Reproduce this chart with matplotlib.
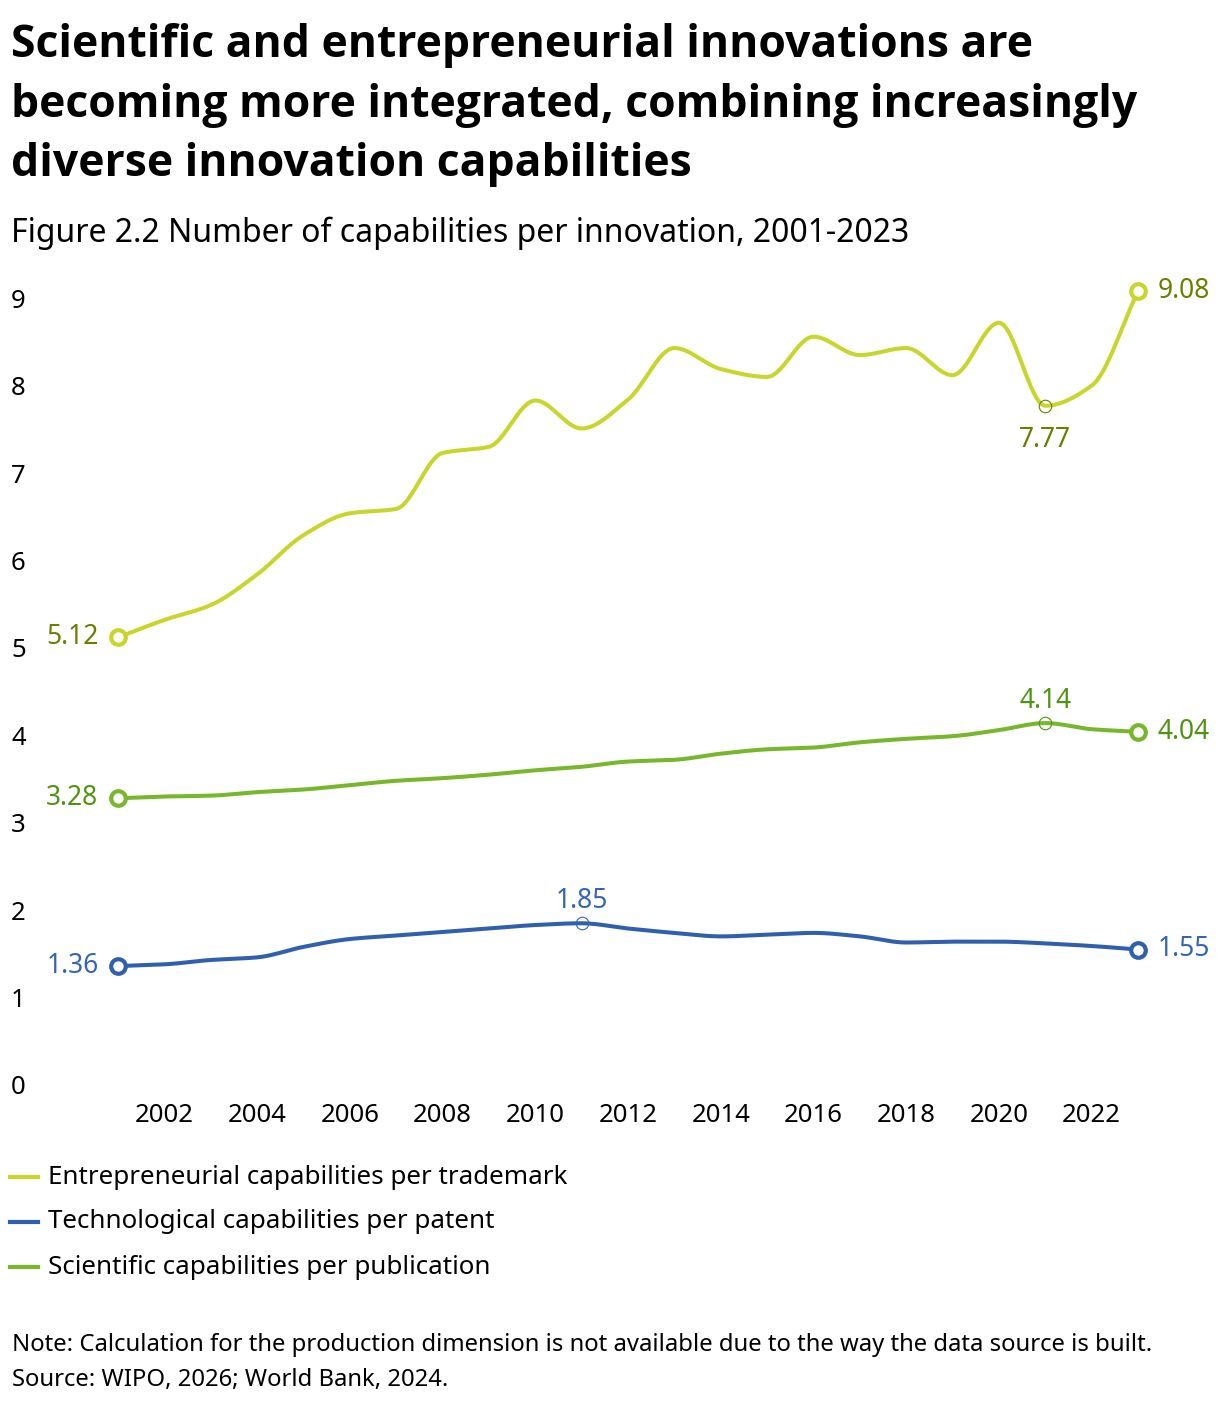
import numpy as np
import matplotlib.pyplot as plt
from matplotlib.lines import Line2D

plt.rcParams['font.family'] = ['Noto Sans', 'DejaVu Sans']

years = list(range(2001, 2024))
entrepreneurial = [5.12, 5.32, 5.49, 5.84, 6.29, 6.54, 6.59, 7.23, 7.30, 7.83, 7.51,
                   7.84, 8.43, 8.19, 8.10, 8.56, 8.35, 8.43, 8.12, 8.72, 7.77, 8.00, 9.08]
technological = [1.36, 1.38, 1.43, 1.46, 1.58, 1.67, 1.71, 1.75, 1.79, 1.83, 1.85,
                 1.79, 1.74, 1.70, 1.72, 1.74, 1.70, 1.63, 1.64, 1.64, 1.62, 1.59, 1.55]
scientific = [3.28, 3.30, 3.31, 3.35, 3.38, 3.43, 3.48, 3.51, 3.55, 3.60, 3.64,
              3.70, 3.72, 3.79, 3.84, 3.86, 3.92, 3.96, 3.99, 4.06, 4.14, 4.07, 4.04]

names = ['Entrepreneurial capabilities per trademark',
         'Technological capabilities per patent',
         'Scientific capabilities per publication']
line_colors = ['#c8d62b', '#2f5fad', '#78b72b']
label_colors = ['#6a7f00', '#3564b3', '#4f9410']


def monotone(x, y, n=20):
    # monotone cubic (Fritsch-Carlson), used only to draw the smooth path
    x = np.asarray(x, float)
    y = np.asarray(y, float)
    h = np.diff(x)
    d = np.diff(y) / h
    m = np.zeros_like(y)
    m[0], m[-1] = d[0], d[-1]
    for i in range(1, len(y) - 1):
        if d[i - 1] * d[i] > 0:
            m[i] = 2.0 / (1.0 / d[i - 1] + 1.0 / d[i])
    xs, ys = [], []
    for i in range(len(h)):
        t = np.linspace(0, 1, n, endpoint=False)
        h00 = 2 * t**3 - 3 * t**2 + 1
        h10 = t**3 - 2 * t**2 + t
        h01 = -2 * t**3 + 3 * t**2
        h11 = t**3 - t**2
        xs.append(x[i] + t * h[i])
        ys.append(h00 * y[i] + h10 * h[i] * m[i] + h01 * y[i + 1] + h11 * h[i] * m[i + 1])
    xs.append([x[-1]])
    ys.append([y[-1]])
    return np.concatenate(xs), np.concatenate(ys)


W, H = 1220, 1406
fig = plt.figure(figsize=(W / 100, H / 100), dpi=100)
ax = fig.add_axes([71.6 / W, 321 / H, 1112.8 / W, 813 / H])
ax.set_xlim(2000, 2024)
ax.set_ylim(0, 9.3)

series = [entrepreneurial, technological, scientific]
for vals, lc in zip(series, line_colors):
    sx, sy = monotone(years, vals)
    ax.plot(sx, sy, color=lc, lw=2.9, solid_capstyle='round', zorder=2)
    ax.plot([years[0], years[-1]], [vals[0], vals[-1]], 'o', ms=10.5, mfc='white',
            mec=lc, mew=3, zorder=4, clip_on=False)

# end labels
for vals, tc in zip(series, label_colors):
    ax.annotate(f'{vals[0]:.2f}', (years[0], vals[0]), xytext=(-14, 0),
                textcoords='offset points', ha='right', va='center', fontsize=19, color=tc)
    ax.annotate(f'{vals[-1]:.2f}', (years[-1], vals[-1]), xytext=(14, 0),
                textcoords='offset points', ha='left', va='center', fontsize=19, color=tc)

# highlighted points
hl = [(0, 2021, -25), (1, 2011, 16), (2, 2021, 16)]
for k, yr, dy in hl:
    v = series[k][years.index(yr)]
    ax.plot([yr], [v], 'o', ms=9, mfc='none', mec=label_colors[k], mew=0.8, zorder=5)
    ax.annotate(f'{v:.2f}', (yr, v), xytext=(0, dy), textcoords='offset points',
                ha='center', va='center', fontsize=19, color=label_colors[k])

ax.set_xticks(range(2002, 2024, 2))
ax.set_yticks(range(0, 10))
ax.tick_params(axis='both', length=0, labelsize=18.5, colors='black')
ax.tick_params(axis='y', pad=33)
ax.tick_params(axis='x', pad=13)
for s in ax.spines.values():
    s.set_visible(False)

title_lines = ['Scientific and entrepreneurial innovations are',
               'becoming more integrated, combining increasingly',
               'diverse innovation capabilities']
for i, line in enumerate(title_lines):
    fig.text(11 / W, 1 - (57 + 59.5 * i) / H, line, family=['Open Sans', 'Noto Sans'],
             fontsize=32, fontweight='bold', va='baseline', ha='left')
fig.text(11 / W, 1 - 233 / H,
         'Figure 2.2 Number of capabilities per innovation, 2001-2023',
         fontsize=23, va='center', ha='left')

for i, (name, c) in enumerate(zip(names, line_colors)):
    yf = 1 - (1177 + 45 * i) / H
    fig.add_artist(Line2D([10 / W, 38 / W], [yf, yf], color=c, lw=3))
    fig.text(48 / W, yf, name, fontsize=18.7, va='center', ha='left')

fig.text(12 / W, 1 - 1345 / H,
         'Note: Calculation for the production dimension is not available due to the way the data source is built.',
         fontsize=17.2, va='center', ha='left')
fig.text(12 / W, 1 - 1380 / H, 'Source: WIPO, 2026; World Bank, 2024.',
         fontsize=17.2, va='center', ha='left')

fig.savefig('out.png', dpi=100)
